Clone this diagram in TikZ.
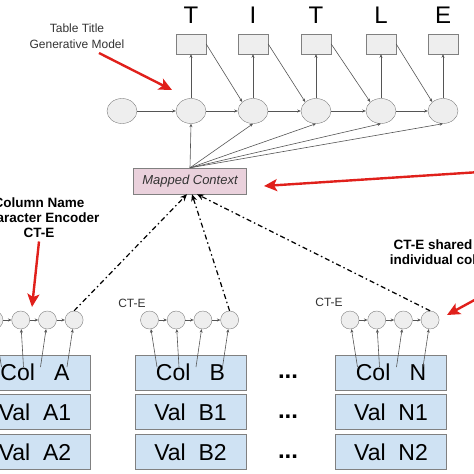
\documentclass[tikz,border=0pt]{standalone}
\usepackage{fontspec}
\setmainfont{Liberation Sans}
\usetikzlibrary{arrows.meta,shapes.geometric}
\definecolor{cellblue}{HTML}{CFE2F3}
\definecolor{mapfill}{HTML}{EAD1DC}
\definecolor{boxgray}{HTML}{EEEEEE}
\definecolor{linegray}{HTML}{555555}
\definecolor{notered}{HTML}{E0201B}
\definecolor{txtgray}{HTML}{333333}
\begin{document}
\begin{tikzpicture}[x=1pt,y=-1pt,
  outbox/.style={draw=gray,fill=boxgray,minimum width=30pt,minimum height=20pt,inner sep=0pt},
  state/.style={ellipse,draw=gray,fill=boxgray,minimum width=30pt,minimum height=25pt,inner sep=0pt},
  enc/.style={circle,draw=gray,fill=boxgray,minimum size=18pt,inner sep=0pt},
  cell/.style={draw=gray,fill=cellblue,minimum width=111pt,minimum height=35pt,inner sep=0pt,font=\fontsize{23}{23}\selectfont},
  link/.style={draw=linegray,line width=0.6pt,-{Stealth[length=3.5pt,width=3pt]}},
  feed/.style={draw=black,line width=1.2pt,dash pattern=on 5pt off 3pt on 1.5pt off 3pt,-{Stealth[length=7pt,width=6pt]}},
  note/.style={draw=notered,line width=2.4pt,-{Stealth[length=13pt,width=12pt,inset=3pt]}},
  notetext/.style={font=\bfseries\fontsize{13.5}{15}\selectfont,align=center}]
\useasboundingbox (0,0) rectangle (474,474);
\node[state] (e0) at (122,111) {};
\foreach \i/\x/\c in {1/191/T,2/253/I,3/316/T,4/381/L,5/443/E} {
  \node[state] (e\i) at (\x,111) {};
  \node[outbox] (o\i) at (\x,44) {};
  \node[font=\fontsize{24}{24}\selectfont] (t\i) at (\x,15) {\c};
  \draw[link] (e\i) -- (o\i);
}
\foreach \i/\j in {0/1,1/2,2/3,3/4,4/5} \draw[link] (e\i) -- (e\j);
\foreach \i/\j in {1/2,2/3,3/4,4/5} \draw[link] (o\i.east) -- (e\j.north west);
\node[draw=gray,fill=mapfill,minimum width=113pt,minimum height=26pt,text=txtgray,font=\itshape\fontsize{13}{13}\selectfont] (ctx) at (190,181) {Mapped Context};
\foreach \i in {1,...,5} \draw[link] (ctx.north) -- (e\i.south);
\foreach \c/\x/\n in {a/35/A,b/190.5/B,n/391/N} {
  \node[cell] (\c0) at (\x,372.5) {Col\ \ \ \n};
  \node[cell] (\c1) at (\x,412) {Val\ \ \n1};
  \node[cell] (\c2) at (\x,452) {Val\ \ \n2};
  \foreach \k/\s in {1/-33.5,2/-11.5,3/5.5,4/32} {
    \node[enc] (r\c\k) at ({\x-41+26.7*(\k-1)},320) {};
    \coordinate (s\c\k) at ({\x+\s},367);
    \draw[link] (s\c\k) -- (r\c\k);
  }
  \foreach \k/\j in {1/2,2/3,3/4} \draw[link] (r\c\k) -- (r\c\j);
}
\foreach \y [count=\i] in {377,417,457} \node[font=\bfseries\fontsize{24}{24}\selectfont] (d\i) at (288,\y) {...};
\node[font=\fontsize{12}{12}\selectfont,text=txtgray] (lb) at (132,303) {CT-E};
\node[font=\fontsize{12}{12}\selectfont,text=txtgray] (ln) at (329,302) {CT-E};
\draw[feed] (ra4.north) -- ([xshift=-3pt]ctx.south);
\draw[feed] (rb4.north) -- ([xshift=2pt]ctx.south);
\draw[feed] (rn4.north) -- ([xshift=7pt]ctx.south);
\node[font=\fontsize{12}{16}\selectfont,text=txtgray,align=center] (tg) at (77,36) {Table Title\\Generative Model};
\coordinate (tgtail) at (99,53);
\coordinate (tgtip) at (172,90);
\draw[note] (tgtail) -- (tgtip);
\node[notetext] (cn) at (39,218) {Column Name\\Character Encoder\\CT-E};
\coordinate (cntip) at (32,307);
\draw[note] (cn.south) -- (cntip);
\coordinate (cxtail) at (480,172);
\coordinate (cxtip) at (264,186);
\draw[note] (cxtail) -- (cxtip);
\node[notetext] (sh) at (433,252.5) {CT-E shared\\individual col};
\coordinate (shtail) at (480,297);
\coordinate (shtip) at (447,315);
\draw[note] (shtail) -- (shtip);
\end{tikzpicture}
\end{document}
